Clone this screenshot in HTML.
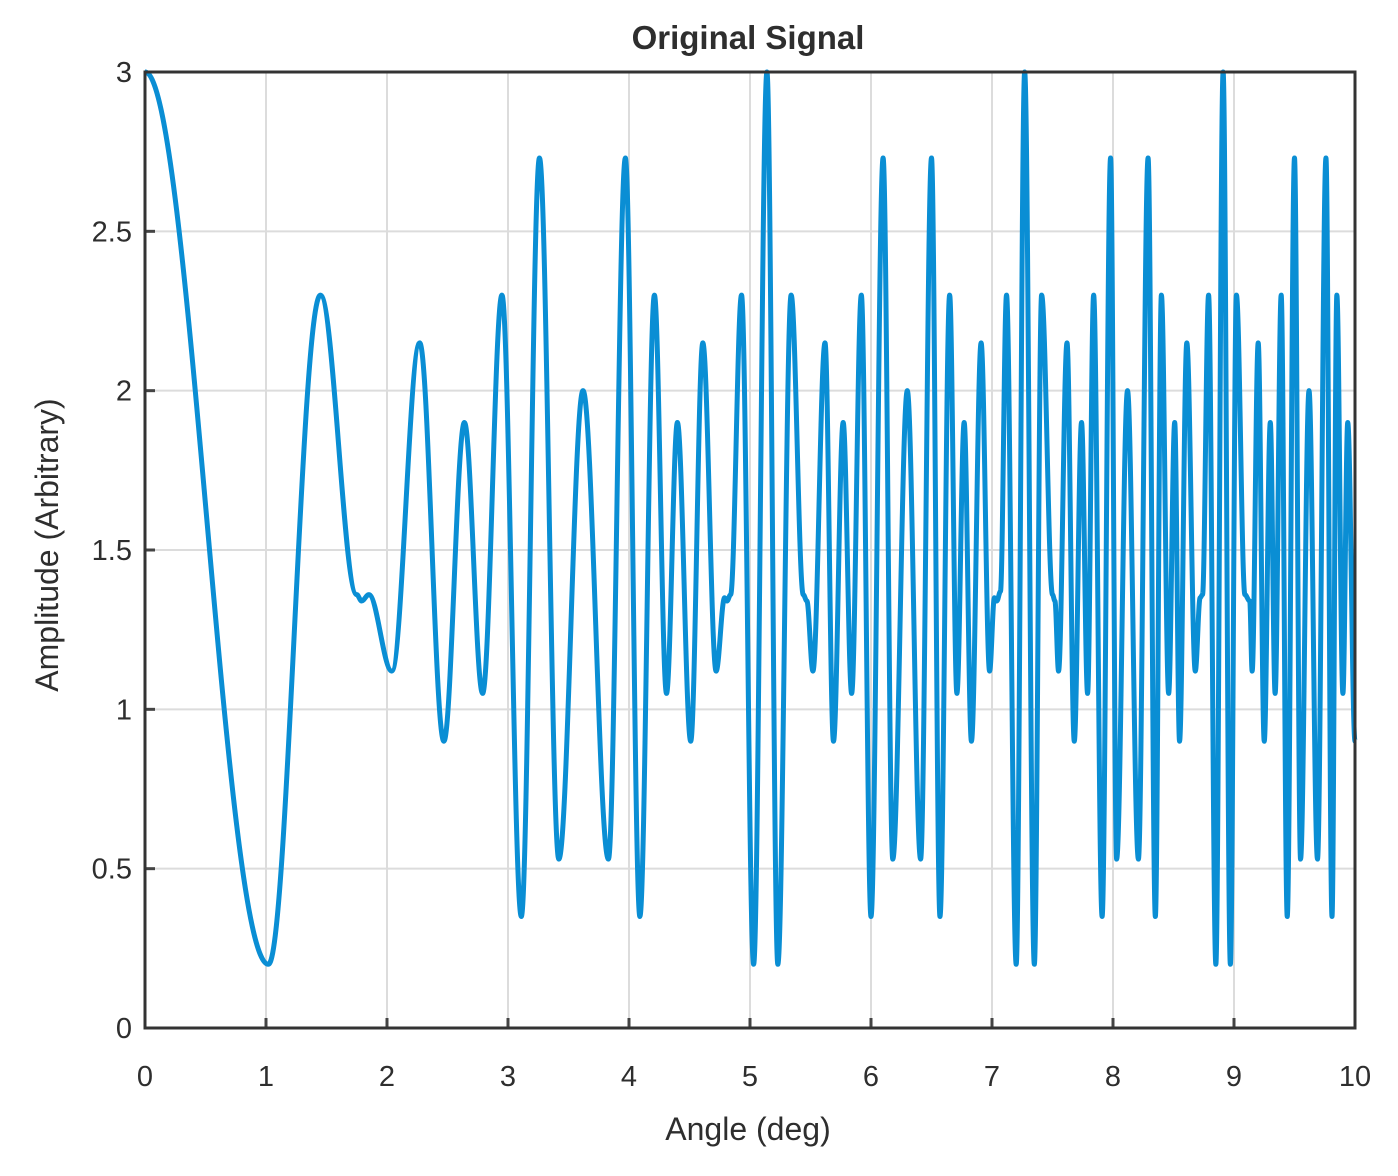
<!DOCTYPE html>
<html><head><meta charset="utf-8"><style>
body{margin:0;background:#fff;}
svg text{font-family:"Liberation Sans",sans-serif;fill:#2e2e2e;}
</style></head><body>
<svg id="chart" width="1398" height="1171" viewBox="0 0 1398 1171" xmlns="http://www.w3.org/2000/svg">
<rect width="1398" height="1171" fill="#fff"/>
<g id="grid"></g>
<g id="ticks"></g>
<path id="line" fill="none" stroke="#0a8ed4" stroke-width="5" stroke-linejoin="round"/>
<rect x="145" y="72" width="1210" height="956" fill="none" stroke="#333" stroke-width="3"/>
<text x="748" y="49" font-size="33" font-weight="600" text-anchor="middle">Original Signal</text>
<text x="748" y="1140" font-size="32" text-anchor="middle">Angle (deg)</text>
<text transform="translate(58,545) rotate(-90)" font-size="32" text-anchor="middle">Amplitude (Arbitrary)</text>
</svg>
<script>
const xTicks=[0,1,2,3,4,5,6,7,8,9,10];
const yTicks=[0,0.5,1,1.5,2,2.5,3];
const yTickLabels=["0","0.5","1","1.5","2","2.5","3"];
const extremaX=[0,1.02,1.45,1.75,1.79,1.85,2.04,2.27,2.47,2.64,2.79,2.95,3.11,3.26,3.42,3.62,3.83,3.97,4.09,4.21,4.31,4.4,4.51,4.61,4.72,4.79,4.81,4.84,4.93,5.03,5.14,5.23,5.34,5.44,5.47,5.52,5.62,5.69,5.77,5.84,5.92,6.0,6.1,6.18,6.3,6.41,6.5,6.57,6.65,6.71,6.77,6.83,6.91,6.98,7.02,7.04,7.07,7.12,7.2,7.27,7.35,7.41,7.5,7.52,7.55,7.62,7.68,7.74,7.79,7.84,7.91,7.98,8.03,8.12,8.21,8.29,8.35,8.4,8.46,8.51,8.55,8.61,8.68,8.72,8.74,8.79,8.85,8.91,8.97,9.02,9.09,9.13,9.15,9.2,9.25,9.3,9.34,9.39,9.44,9.5,9.55,9.62,9.69,9.76,9.81,9.85,9.9,9.94,10];
const extremaY=[3,0.2,2.3,1.36,1.34,1.36,1.12,2.15,0.9,1.9,1.05,2.3,0.35,2.73,0.53,2.0,0.53,2.73,0.35,2.3,1.05,1.9,0.9,2.15,1.12,1.35,1.34,1.36,2.3,0.2,3.0,0.2,2.3,1.36,1.34,1.12,2.15,0.9,1.9,1.05,2.3,0.35,2.73,0.53,2.0,0.53,2.73,0.35,2.3,1.05,1.9,0.9,2.15,1.12,1.35,1.34,1.37,2.3,0.2,3.0,0.2,2.3,1.36,1.34,1.12,2.15,0.9,1.9,1.05,2.3,0.35,2.73,0.53,2.0,0.53,2.73,0.35,2.3,1.05,1.9,0.9,2.15,1.12,1.35,1.36,2.3,0.2,3.0,0.2,2.3,1.36,1.34,1.12,2.15,0.9,1.9,1.05,2.3,0.35,2.73,0.53,2.0,0.53,2.73,0.35,2.3,1.05,1.9,0.9];
const X0=145,X1=1355,Y0=1028,Y1=72;
function sx(v){return X0+(v-0)/(10-0)*(X1-X0);}
function sy(v){return Y0-(v-0)/(3-0)*(Y0-Y1);}
const NS="http://www.w3.org/2000/svg";
const grid=document.getElementById('grid'),ticks=document.getElementById('ticks');
xTicks.forEach(t=>{
  const l=document.createElementNS(NS,'line');
  
  
  l.setAttribute('x1',sx(t));l.setAttribute('x2',sx(t));l.setAttribute('y1',Y1);l.setAttribute('y2',Y0);
  l.setAttribute('stroke','#dcdcdc');l.setAttribute('stroke-width','2');grid.appendChild(l);
  const k=document.createElementNS(NS,'line');
  
  
  k.setAttribute('x1',sx(t));k.setAttribute('x2',sx(t));k.setAttribute('y1',Y0);k.setAttribute('y2',Y0-10);
  k.setAttribute('stroke','#444');k.setAttribute('stroke-width','3');grid.appendChild(k);
  const tx=document.createElementNS(NS,'text');
  
  
  tx.setAttribute('x',sx(t));tx.setAttribute('y',1086);tx.setAttribute('font-size','29');tx.setAttribute('text-anchor','middle');
  tx.textContent=String(t);ticks.appendChild(tx);
});
yTicks.forEach((t,i)=>{
  const l=document.createElementNS(NS,'line');
  
  
  l.setAttribute('x1',X0);l.setAttribute('x2',X1);l.setAttribute('y1',sy(t));l.setAttribute('y2',sy(t));
  l.setAttribute('stroke','#dcdcdc');l.setAttribute('stroke-width','2');grid.appendChild(l);
  const k=document.createElementNS(NS,'line');
  
  
  k.setAttribute('x1',X0);k.setAttribute('x2',X0+10);k.setAttribute('y1',sy(t));k.setAttribute('y2',sy(t));
  k.setAttribute('stroke','#444');k.setAttribute('stroke-width','3');grid.appendChild(k);
  const tx=document.createElementNS(NS,'text');
  
  
  tx.setAttribute('x',132);tx.setAttribute('y',sy(t)+10);tx.setAttribute('font-size','29');tx.setAttribute('text-anchor','end');
  tx.textContent=yTickLabels[i];ticks.appendChild(tx);
});
let d='M'+sx(extremaX[0])+','+sy(extremaY[0]);
for(let i=1;i<extremaX.length;i++){
  const xa=sx(extremaX[i-1]),xb=sx(extremaX[i]),ya=sy(extremaY[i-1]),yb=sy(extremaY[i]);
  const h=(xb-xa)*0.36;
  d+=' C'+(xa+h)+','+ya+' '+(xb-h)+','+yb+' '+xb+','+yb;
}
document.getElementById('line').setAttribute('d',d);
</script>
</body></html>
